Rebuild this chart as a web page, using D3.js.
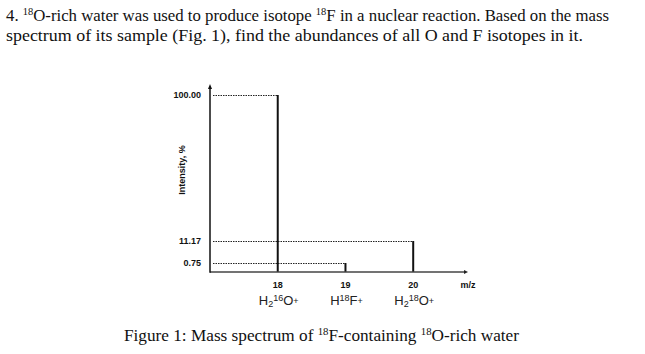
<!DOCTYPE html>
<html>
<head>
<meta charset="utf-8">
<script src="https://cdn.jsdelivr.net/npm/d3@7"></script>
<style>
  body { margin: 0; background: #fff; }
  svg { display: block; }
</style>
</head>
<body>
<svg id="chart" width="645" height="354"></svg>
<script>
// peaks of the spectrum
const masses = [18, 19, 20];
const intensities = [100.00, 0.75, 11.17];
const ions = [
  [["H", 0], ["2", "sub"], ["16", "sup"], ["O", 0], ["+", "plus"]],
  [["H", 0], ["18", "sup"], ["F", 0], ["+", "plus"]],
  [["H", 0], ["2", "sub"], ["18", "sup"], ["O", 0], ["+", "plus"]]
];
const yTickValues = [100.00, 11.17, 0.75];

const svg = d3.select('#chart');
const serif = '"Liberation Serif", "Times New Roman", serif';
const sans = '"Liberation Sans", Arial, sans-serif';

// question text
const q = svg.append('g').style('font-family', serif).style('font-size', '16px').attr('fill', '#111');
const l1 = q.append('text').attr('x', 6).attr('y', 21).attr('textLength', 603).attr('lengthAdjust', 'spacingAndGlyphs');
l1.append('tspan').text('4. ');
l1.append('tspan').attr('dy', -6).style('font-size', '10px').text('18');
l1.append('tspan').attr('dy', 6).text('O-rich water was used to produce isotope ');
l1.append('tspan').attr('dy', -6).style('font-size', '10px').text('18');
l1.append('tspan').attr('dy', 6).text('F in a nuclear reaction. Based on the mass');
q.append('text').attr('x', 6).attr('y', 41).attr('textLength', 577).attr('lengthAdjust', 'spacingAndGlyphs')
  .text('spectrum of its sample (Fig. 1), find the abundances of all O and F isotopes in it.');

// scales
const x = d3.scaleLinear().domain([17, 20.75]).range([210, 464]);
// the source figure uses a broken intensity axis
const y = d3.scaleLinear().domain([0, 0.75, 11.17, 100]).range([272, 263, 241, 95]);

const g = svg.append('g');

// dotted guides from axis to each peak top
g.selectAll('line.guide')
  .data(masses.map((m, i) => [m, intensities[i]]))
  .join('line')
  .attr('class', 'guide')
  .attr('x1', x(17) + 3).attr('x2', d => x(d[0]))
  .attr('y1', d => y(d[1]) + 0.5).attr('y2', d => y(d[1]) + 0.5)
  .attr('stroke', '#222').attr('stroke-width', 1).attr('stroke-dasharray', '1.5,1');

// peaks
g.selectAll('line.peak')
  .data(masses.map((m, i) => [m, intensities[i]]))
  .join('line')
  .attr('class', 'peak')
  .attr('x1', d => x(d[0])).attr('x2', d => x(d[0]))
  .attr('y1', y(0)).attr('y2', d => y(d[1]))
  .attr('stroke', '#111').attr('stroke-width', 2);

// axes
g.append('line').attr('x1', x(17)).attr('x2', x(20.75)).attr('y1', y(0)).attr('y2', y(0))
  .attr('stroke', '#444').attr('stroke-width', 1.5);
g.append('path').attr('d', `M${x(20.75)},${y(0) - 2}L${x(20.75) + 4},${y(0)}L${x(20.75)},${y(0) + 2}Z`).attr('fill', '#222');
g.append('line').attr('x1', x(17)).attr('x2', x(17)).attr('y1', y(0) + 0.75).attr('y2', 88)
  .attr('stroke', '#111').attr('stroke-width', 1.5);
g.append('path').attr('d', `M${x(17) - 2},89L${x(17)},84L${x(17) + 2},89Z`).attr('fill', '#111');

const small = sel => sel.style('font-family', sans).style('font-size', '9px').style('font-weight', 'bold').attr('fill', '#111');

// y tick labels
g.selectAll('text.ytick')
  .data(yTickValues)
  .join('text')
  .attr('class', 'ytick')
  .attr('x', 201).attr('y', d => y(d) + 3)
  .attr('text-anchor', 'end')
  .call(small)
  .text(d3.format('.2f'));

g.append('text')
  .attr('transform', 'translate(185,170) rotate(-90)')
  .attr('text-anchor', 'middle')
  .call(small)
  .text('Intensity, %');

// x tick labels
g.selectAll('text.xtick')
  .data(masses)
  .join('text')
  .attr('class', 'xtick')
  .attr('x', d => x(d)).attr('y', 288)
  .attr('text-anchor', 'middle')
  .call(small)
  .text(d => d);
g.append('text').attr('x', x(20.75) + 4).attr('y', 288).attr('text-anchor', 'middle')
  .call(small)
  .text('m/z');

// ion labels
const ionText = g.selectAll('text.ion')
  .data(ions)
  .join('text')
  .attr('class', 'ion')
  .attr('x', (d, i) => x(masses[i]) + 1).attr('y', 305)
  .attr('text-anchor', 'middle')
  .style('font-family', sans).style('font-size', '13px').attr('fill', '#222');
ionText.each(function(parts) {
  const t = d3.select(this);
  let shift = 0;
  parts.forEach(([s, kind]) => {
    const target = kind === 'sub' ? 1.5 : kind === 'sup' ? -4 : kind === 'plus' ? -1 : 0;
    t.append('tspan').attr('dy', target - shift)
      .style('font-size', kind ? '9px' : '13px').text(s);
    shift = target;
  });
});

// caption
const cap = svg.append('text').attr('x', 124).attr('y', 341)
  .attr('textLength', 395).attr('lengthAdjust', 'spacingAndGlyphs')
  .style('font-family', serif).style('font-size', '16px').attr('fill', '#111');
cap.append('tspan').text('Figure 1: Mass spectrum of ');
cap.append('tspan').attr('dy', -6).style('font-size', '10px').text('18');
cap.append('tspan').attr('dy', 6).text('F-containing ');
cap.append('tspan').attr('dy', -6).style('font-size', '10px').text('18');
cap.append('tspan').attr('dy', 6).text('O-rich water');
</script>
</body>
</html>
